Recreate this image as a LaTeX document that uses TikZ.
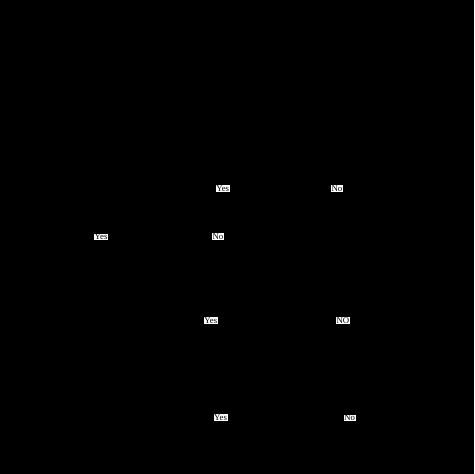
\documentclass[tikz,border=0pt]{standalone}
\usepackage{fontspec}
\setmainfont{Liberation Serif}
\usetikzlibrary{shapes.geometric,arrows,positioning}

\begin{document}
\begin{tikzpicture}[
    x=0.04cm, y=-0.04cm,
    stepbox/.style={draw=black, minimum width=#1, inner sep=1pt, align=center, text=black, font=\fontsize{6}{7}\selectfont},
    stepbox/.default=3cm,
    decision/.style={draw=black, diamond, minimum width=#1, minimum height=1.2cm, inner sep=0pt, align=center, text=black, font=\fontsize{5}{6}\selectfont},
    decision/.default=3cm,
    arrow/.style={->, >=stealth, black},
    answer/.style={fill=white, text=black, inner sep=0.6pt, font=\fontsize{10}{10}\selectfont}
]

% Background
\fill[black] (0,0) rectangle (474,474);
\useasboundingbox (0,0) rectangle (474,474);

% Start and assessment
\node[stepbox=2.6cm, minimum height=0.72cm] (start) at (277,10) {Start};
\node[stepbox=9.6cm, minimum height=0.68cm] (info1) at (280,35) {Assessment of the patient at first visit and clinical examination};
\node[stepbox=9.6cm, minimum height=0.84cm] (info2) at (280,57.5) {History, symptoms and findings are recorded and compared with the\\ reference values};
\node[stepbox=9.6cm, minimum height=0.72cm] (info3) at (280,86) {Laboratory tests and imaging are requested};
\node[stepbox=9.6cm, minimum height=0.72cm] (info4) at (280,109) {Results are reviewed together with the clinical criteria (Table 1)};
\node[stepbox=9.6cm, minimum height=0.8cm] (check) at (280,148) {Criteria for diagnosis are checked (Table 2)};

% First decision
\node[decision=3.12cm] (d1) at (279,188) {Criteria\\ fulfilled\\ completely?};
\node[stepbox=3.6cm, minimum height=1.08cm] (res1) at (160,188.5) {Diagnosis is confirmed,\\ treatment plan is\\ started};
\node[stepbox=3.08cm, minimum height=1.12cm] (res2) at (395,189) {Diagnosis is not\\ confirmed, follow-up\\ is planned};

% Second decision
\node[decision=2.8cm] (d2) at (160,236) {Response\\ to first-line\\ treatment?};
\node[stepbox=3.12cm, minimum height=1.08cm] (cont) at (37,238) {Treatment is\\ continued with\\ regular control};
\node[stepbox=4.92cm, minimum height=1.2cm] (second) at (303.5,238) {Second-line treatment is started and\\ dose is adjusted to the patient};
\node[stepbox=6.72cm, minimum height=0.68cm] (control) at (281,278.5) {Control examination after three months};

% Third decision
\node[decision=3cm] (d4) at (277,320) {Clinical\\ improvement\\ observed?};
\node[stepbox=3.48cm, minimum height=1cm] (keep) at (138.5,320.5) {Treatment is kept,\\ control every six months};
\node[stepbox=3.6cm, minimum height=1.08cm] (refer) at (417,321.5) {Patient is referred to a\\ specialist centre};
\node[stepbox=3.12cm, minimum height=1.12cm] (review) at (281,369) {Final review of\\ the results};

% Last decision
\node[decision=2.8cm] (d6) at (277,417) {Remission\\ reached?};
\node[stepbox=3.6cm, minimum height=0.88cm] (stop) at (153,419) {Treatment is stopped};
\node[stepbox=2.92cm, minimum height=0.72cm] (repeat) at (425,419) {Repeat cycle};
\node[stepbox=3cm, minimum height=0.8cm] (end) at (282.5,463) {End};

% Arrows
\draw[arrow] (start) -- (info1);
\draw[arrow] (info4) -- (check);
\draw[arrow] (check) -- (d1);
\draw[arrow] (d1) -- node[answer] {Yes} (res1);
\draw[arrow] (d1) -- node[answer] {No} (res2);
\draw[arrow] (res1) -- (d2);
\draw[arrow] (d2) -- node[answer] {Yes} (cont);
\draw[arrow] (d2) -- node[answer] {No} (second);
\draw[arrow] (second.south -| control) -- (control);
\draw[arrow] (control) -- (d4);
\draw[arrow] (d4) -- node[answer] {Yes} (keep);
\draw[arrow] (d4) -- node[answer] {NO} (refer);
\draw[arrow] (d4) -- (review);
\draw[arrow] (review) -- (d6);
\draw[arrow] (d6) -- node[answer] {Yes} (stop);
\draw[arrow] (d6) -- node[answer] {No} (repeat);
\draw[arrow] (d6) -- (end);

\end{tikzpicture}
\end{document}
